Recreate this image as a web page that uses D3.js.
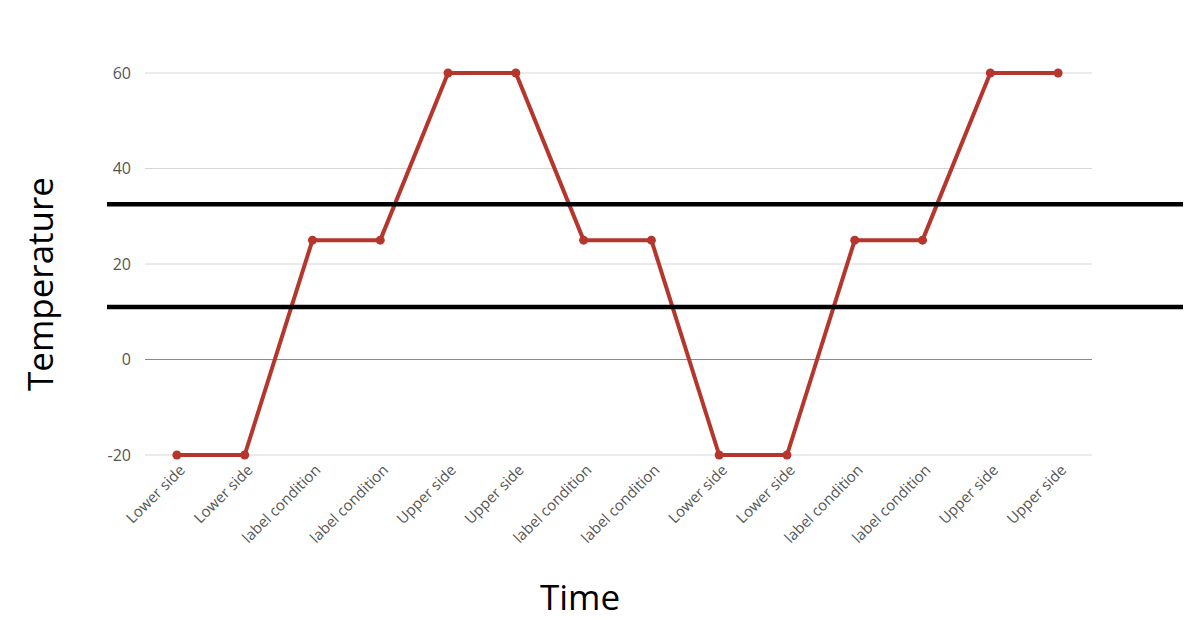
<!DOCTYPE html>
<html>
<head>
<meta charset="utf-8">
<script src="https://cdn.jsdelivr.net/npm/d3@7"></script>
<style>
  body { margin: 0; background: #fff; }
  svg { font-family: "Open Sans", sans-serif; }
</style>
</head>
<body>
<div id="chart"></div>
<script>
var categories = ["Lower side", "Lower side", "label condition", "label condition",
  "Upper side", "Upper side", "label condition", "label condition",
  "Lower side", "Lower side", "label condition", "label condition",
  "Upper side", "Upper side"];
var temperatures = [-20, -20, 25, 25, 60, 60, 25, 25, -20, -20, 25, 25, 60, 60];
var yTicks = [-20, 0, 20, 40, 60];
var thresholds = [32.5, 11];

var width = 1200, height = 620;

var svg = d3.select("#chart").append("svg")
  .attr("width", width)
  .attr("height", height);

var x = d3.scalePoint()
  .domain(d3.range(categories.length))
  .range([143, 1092])
  .padding(0.5);

var y = d3.scaleLinear()
  .domain([-20, 60])
  .range([455, 73]);

// gridlines
svg.append("g").selectAll("line")
  .data(yTicks)
  .enter().append("line")
  .attr("x1", 145).attr("x2", 1092)
  .attr("y1", function (d) { return y(d); })
  .attr("y2", function (d) { return y(d); })
  .attr("stroke", function (d) { return d === 0 ? "#8a8a8a" : "#d6d6d6"; })
  .attr("stroke-width", 1);

// y tick labels
svg.append("g").selectAll("text")
  .data(yTicks)
  .enter().append("text")
  .attr("x", 131)
  .attr("y", function (d) { return y(d); })
  .attr("dy", "0.35em")
  .attr("text-anchor", "end")
  .attr("font-size", 16)
  .attr("fill", "#555")
  .text(function (d) { return d; });

// x tick labels
svg.append("g").selectAll("text")
  .data(categories)
  .enter().append("text")
  .attr("text-anchor", "end")
  .attr("font-size", 15)
  .attr("fill", "#555")
  .attr("transform", function (d, i) {
    return "translate(" + (x(i) + 9) + "," + 471 + ") rotate(-45)";
  })
  .text(function (d) { return d; });

// data line
var line = d3.line()
  .x(function (d, i) { return x(i); })
  .y(function (d) { return y(d); });

svg.append("path")
  .datum(temperatures)
  .attr("fill", "none")
  .attr("stroke", "#b5362c")
  .attr("stroke-width", 4)
  .attr("stroke-linejoin", "round")
  .attr("d", line);

svg.append("g").selectAll("circle")
  .data(temperatures)
  .enter().append("circle")
  .attr("cx", function (d, i) { return x(i); })
  .attr("cy", function (d) { return y(d); })
  .attr("r", 4.5)
  .attr("fill", "#b5362c");

// threshold lines
svg.append("g").selectAll("line")
  .data(thresholds)
  .enter().append("line")
  .attr("x1", 107).attr("x2", 1183)
  .attr("y1", function (d) { return y(d); })
  .attr("y2", function (d) { return y(d); })
  .attr("stroke", "#000")
  .attr("stroke-width", 4.5);

// axis titles
svg.append("text")
  .attr("transform", "translate(53,284) rotate(-90)")
  .attr("text-anchor", "middle")
  .attr("font-size", 35)
  .attr("fill", "#000")
  .text("Temperature");

svg.append("text")
  .attr("x", 580)
  .attr("y", 610)
  .attr("text-anchor", "middle")
  .attr("font-size", 35)
  .attr("fill", "#000")
  .text("Time");
</script>
</body>
</html>
